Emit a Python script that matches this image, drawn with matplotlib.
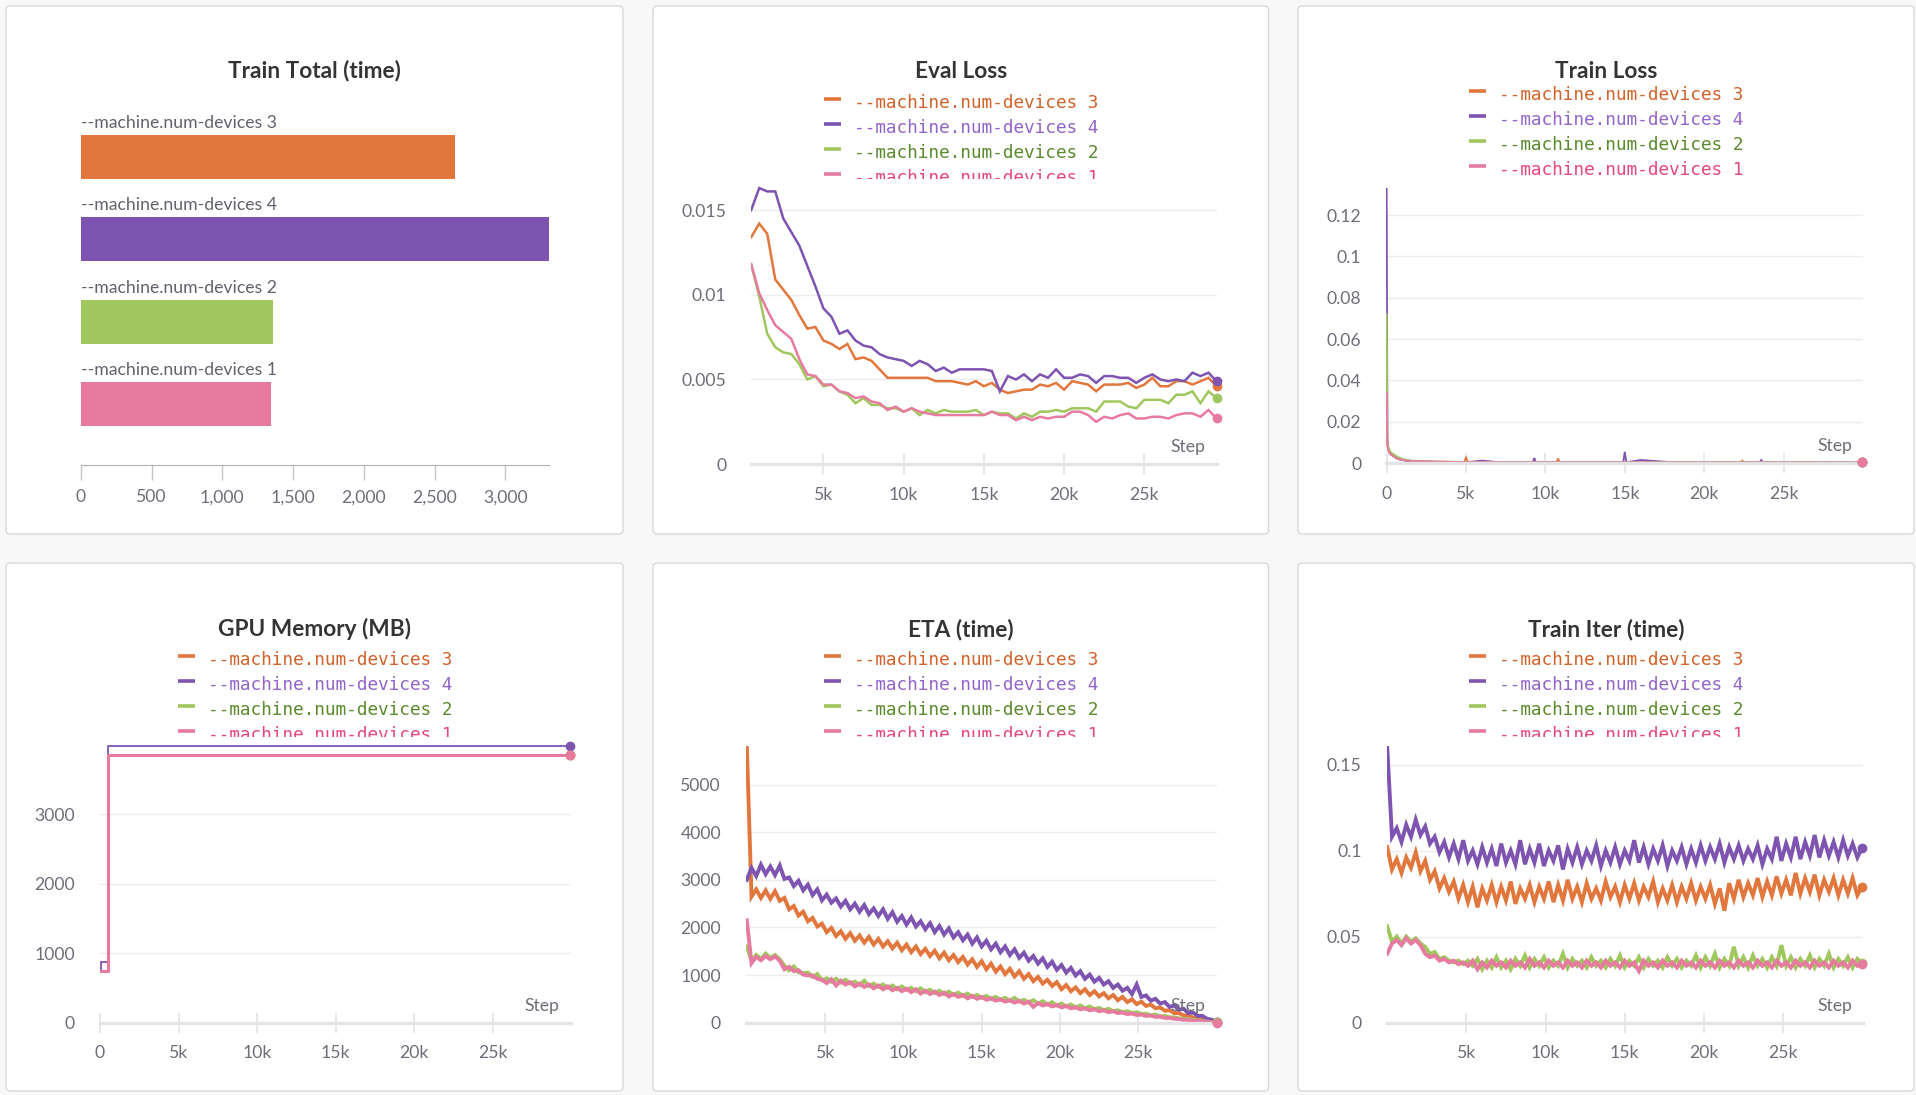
# wandb style dashboard six panels one bar chart five step charts
# comments are lowercase no punctuation

import numpy as np
import matplotlib
matplotlib.use("Agg")
import matplotlib.pyplot as plt
from matplotlib.patches import FancyBboxPatch
from matplotlib.transforms import IdentityTransform
from matplotlib.ticker import FuncFormatter

plt.rcParams["font.family"] = ["Lato", "DejaVu Sans"]

W, H = 1916, 1095

RUNS = ["--machine.num-devices 3", "--machine.num-devices 4",
        "--machine.num-devices 2", "--machine.num-devices 1"]
LINE_COLORS = ["#e2773e", "#7e54b1", "#a0c75e", "#e67b9f"]
TEXT_COLORS = ["#d2622b", "#9265c8", "#5b8a2d", "#e3477e"]
TICK = "#6e6e7a"

# train total time per run
TRAIN_TOTAL = [2642, 3312, 1359, 1347]
TOTAL_TICKS = [0, 500, 1000, 1500, 2000, 2500, 3000]

# eval loss every 500 steps
EVAL_STEPS = list(range(500, 30000, 500))
EVAL_3 = [0.0134, 0.0142, 0.0136, 0.0109, 0.0103, 0.0097, 0.0088, 0.0080, 0.0081, 0.0073,
          0.0071, 0.0068, 0.0071, 0.0062, 0.0063, 0.0061, 0.0056, 0.0051, 0.0051, 0.0051,
          0.0051, 0.0051, 0.0051, 0.0049, 0.0049, 0.0049, 0.0048, 0.0047, 0.0049, 0.0046,
          0.0048, 0.0044, 0.0042, 0.0043, 0.0044, 0.0044, 0.0047, 0.0046, 0.0048, 0.0044,
          0.0049, 0.0048, 0.0047, 0.0043, 0.0047, 0.0047, 0.0047, 0.0048, 0.0045, 0.0047,
          0.0051, 0.0046, 0.0046, 0.0049, 0.0049, 0.0047, 0.0049, 0.0051, 0.0046]
EVAL_4 = [0.0150, 0.0163, 0.0161, 0.0161, 0.0145, 0.0137, 0.0129, 0.0117, 0.0105, 0.0092,
          0.0087, 0.0077, 0.0079, 0.0073, 0.0070, 0.0069, 0.0065, 0.0063, 0.0062, 0.0061,
          0.0058, 0.0061, 0.0059, 0.0055, 0.0057, 0.0054, 0.0056, 0.0056, 0.0056, 0.0056,
          0.0055, 0.0043, 0.0052, 0.0050, 0.0053, 0.0049, 0.0053, 0.0051, 0.0056, 0.0051,
          0.0051, 0.0053, 0.0052, 0.0048, 0.0052, 0.0052, 0.0051, 0.0051, 0.0048, 0.0051,
          0.0053, 0.0050, 0.0049, 0.0050, 0.0049, 0.0054, 0.0052, 0.0054, 0.0049]
EVAL_2 = [0.0118, 0.0099, 0.0077, 0.0069, 0.0066, 0.0065, 0.0059, 0.0050, 0.0052, 0.0046,
          0.0047, 0.0043, 0.0041, 0.0036, 0.0039, 0.0035, 0.0035, 0.0033, 0.0033, 0.0031,
          0.0033, 0.0029, 0.0032, 0.0030, 0.0032, 0.0031, 0.0031, 0.0031, 0.0032, 0.0029,
          0.0031, 0.0030, 0.0030, 0.0027, 0.0030, 0.0028, 0.0031, 0.0031, 0.0032, 0.0031,
          0.0033, 0.0033, 0.0033, 0.0031, 0.0037, 0.0037, 0.0037, 0.0034, 0.0033, 0.0038,
          0.0038, 0.0038, 0.0036, 0.0041, 0.0041, 0.0043, 0.0036, 0.0043, 0.0039]
EVAL_1 = [0.0118, 0.0101, 0.0091, 0.0082, 0.0078, 0.0074, 0.0062, 0.0053, 0.0052, 0.0047,
          0.0047, 0.0043, 0.0042, 0.0039, 0.0040, 0.0037, 0.0036, 0.0032, 0.0034, 0.0031,
          0.0033, 0.0031, 0.0030, 0.0029, 0.0029, 0.0029, 0.0029, 0.0029, 0.0029, 0.0029,
          0.0031, 0.0029, 0.0029, 0.0026, 0.0028, 0.0026, 0.0028, 0.0027, 0.0028, 0.0028,
          0.0031, 0.0031, 0.0029, 0.0025, 0.0028, 0.0027, 0.0029, 0.0030, 0.0027, 0.0027,
          0.0028, 0.0028, 0.0027, 0.0029, 0.0030, 0.0030, 0.0028, 0.0032, 0.0027]

# train loss sampled where the curve changes
LOSS_STEPS = [0, 50, 100, 200, 300, 500, 700, 1000, 1300, 1600,
              2000, 2500, 3000, 4000, 4900, 5000, 5100, 6000, 7000, 8000,
              9200, 9300, 9400, 10000, 10700, 10800, 10900, 12000, 13000, 14000,
              14900, 15000, 15100, 16000, 18000, 20000, 22300, 22400, 22500, 23500,
              23600, 23700, 25000, 27000, 29950]
LOSS_3 = [0.012, 0.009, 0.006, 0.0045, 0.004, 0.003, 0.002, 0.0015, 0.0012, 0.001,
          0.0009, 0.0008, 0.0007, 0.0006, 0.0006, 0.0030, 0.0006, 0.0006, 0.0005, 0.0005,
          0.0005, 0.0005, 0.0005, 0.0005, 0.0005, 0.0022, 0.0005, 0.0005, 0.0005, 0.0004,
          0.0004, 0.0004, 0.0004, 0.0004, 0.0004, 0.0004, 0.0004, 0.0012, 0.0004, 0.0004,
          0.0004, 0.0004, 0.0004, 0.0004, 0.0003]
LOSS_4 = [0.1333, 0.010, 0.007, 0.005, 0.004, 0.003, 0.002, 0.0015, 0.001, 0.0009,
          0.0008, 0.0007, 0.0006, 0.0005, 0.0005, 0.0006, 0.0005, 0.0012, 0.0005, 0.0005,
          0.0005, 0.0025, 0.0005, 0.0005, 0.0005, 0.0005, 0.0005, 0.0005, 0.0004, 0.0004,
          0.0004, 0.0055, 0.0004, 0.0015, 0.0004, 0.0004, 0.0004, 0.0004, 0.0004, 0.0004,
          0.0015, 0.0004, 0.0004, 0.0004, 0.0003]
LOSS_2 = [0.072, 0.009, 0.008, 0.006, 0.005, 0.004, 0.003, 0.002, 0.0015, 0.0012,
          0.001, 0.0009, 0.0008, 0.0007, 0.0006, 0.0006, 0.0006, 0.0005, 0.0005, 0.0005,
          0.0005, 0.0005, 0.0005, 0.0005, 0.0005, 0.0005, 0.0005, 0.0004, 0.0004, 0.0004,
          0.0004, 0.0004, 0.0004, 0.0004, 0.0004, 0.0004, 0.0004, 0.0004, 0.0004, 0.0004,
          0.0004, 0.0004, 0.0004, 0.0004, 0.0003]
LOSS_1 = [0.034, 0.008, 0.006, 0.005, 0.004, 0.003, 0.002, 0.0015, 0.0012, 0.001,
          0.0009, 0.0008, 0.0007, 0.0006, 0.0005, 0.0005, 0.0005, 0.0005, 0.0005, 0.0004,
          0.0004, 0.0004, 0.0004, 0.0004, 0.0004, 0.0004, 0.0004, 0.0004, 0.0004, 0.0004,
          0.0004, 0.0004, 0.0004, 0.0004, 0.0003, 0.0003, 0.0003, 0.0003, 0.0003, 0.0003,
          0.0003, 0.0003, 0.0003, 0.0003, 0.0003]

# gpu memory step changes
GPU_STEPS = [0, 80, 500, 29950]
GPU_3 = [750, 750, 3860, 3860]
GPU_4 = [740, 880, 3984, 3984]
GPU_2 = [750, 750, 3860, 3860]
GPU_1 = [750, 750, 3860, 3860]

# eta and iter time every 300 steps
ITER_STEPS = list(range(0, 30001, 300))
ETA_3 = [5800, 2650, 2800, 2620, 2780, 2600, 2760, 2560, 2620, 2380,
         2450, 2250, 2330, 2130, 2200, 2020, 2080, 1900, 1990, 1820,
         1920, 1760, 1880, 1720, 1830, 1680, 1800, 1640, 1760, 1600,
         1710, 1560, 1680, 1520, 1640, 1480, 1600, 1440, 1550, 1400,
         1510, 1350, 1470, 1310, 1420, 1270, 1380, 1220, 1330, 1170,
         1290, 1120, 1240, 1070, 1180, 1020, 1130, 970, 1080, 920,
         1020, 870, 960, 820, 900, 770, 850, 700, 790, 660,
         740, 620, 700, 580, 660, 550, 620, 510, 580, 470,
         540, 430, 490, 390, 440, 350, 380, 300, 320, 250,
         260, 200, 200, 150, 150, 100, 90, 60, 40, 20,
         5]
ETA_4 = [3000, 3250, 3080, 3320, 3120, 3280, 3100, 3300, 3020, 3050,
         2870, 2980, 2780, 2900, 2680, 2800, 2570, 2690, 2520, 2610,
         2440, 2560, 2380, 2500, 2330, 2470, 2280, 2400, 2240, 2380,
         2180, 2320, 2120, 2240, 2060, 2210, 2020, 2130, 1960, 2090,
         1900, 2030, 1850, 1980, 1790, 1900, 1730, 1850, 1660, 1790,
         1600, 1720, 1540, 1660, 1480, 1600, 1420, 1540, 1360, 1470,
         1300, 1400, 1240, 1350, 1170, 1280, 1110, 1210, 1050, 1150,
         990, 1080, 920, 1010, 860, 940, 800, 870, 730, 800,
         670, 730, 600, 800, 540, 570, 460, 500, 400, 430,
         330, 360, 270, 290, 200, 210, 140, 140, 80, 60,
         5]
ETA_2 = [1600, 1300, 1420, 1340, 1450, 1360, 1420, 1330, 1200, 1100,
         1180, 1060, 1040, 1050, 960, 1020, 890, 930, 860, 920,
         840, 900, 820, 860, 790, 880, 770, 820, 750, 800,
         730, 780, 700, 760, 690, 730, 660, 720, 640, 690,
         620, 670, 600, 650, 580, 630, 560, 610, 540, 580,
         520, 560, 500, 540, 480, 520, 460, 520, 440, 480,
         420, 470, 400, 450, 380, 430, 360, 400, 340, 380,
         320, 360, 300, 340, 280, 310, 260, 290, 240, 260,
         220, 240, 200, 220, 180, 190, 150, 170, 130, 140,
         110, 110, 90, 80, 70, 60, 45, 35, 20, 10,
         3]
ETA_1 = [2150, 1250, 1380, 1310, 1400, 1330, 1390, 1300, 1120, 1170,
         1080, 1100, 1010, 990, 990, 920, 900, 830, 910, 780,
         880, 800, 850, 760, 820, 750, 800, 720, 780, 700,
         760, 680, 730, 660, 710, 640, 700, 610, 670, 600,
         650, 580, 630, 550, 600, 540, 580, 510, 560, 500,
         540, 480, 510, 460, 490, 440, 470, 420, 460, 400,
         440, 330, 410, 360, 390, 340, 370, 320, 350, 300,
         320, 280, 300, 260, 280, 240, 260, 220, 240, 200,
         210, 180, 190, 160, 170, 140, 150, 120, 125, 100,
         100, 80, 75, 60, 55, 40, 35, 25, 15, 8,
         2]

ITER_3 = [0.102, 0.089, 0.095, 0.087, 0.096, 0.090, 0.099, 0.088, 0.094, 0.083,
          0.088, 0.078, 0.084, 0.076, 0.082, 0.072, 0.080, 0.070, 0.079, 0.067,
          0.078, 0.071, 0.080, 0.070, 0.079, 0.071, 0.082, 0.069, 0.078, 0.072,
          0.080, 0.070, 0.079, 0.072, 0.082, 0.070, 0.080, 0.071, 0.083, 0.072,
          0.079, 0.070, 0.081, 0.072, 0.078, 0.071, 0.082, 0.073, 0.079, 0.070,
          0.080, 0.072, 0.081, 0.071, 0.079, 0.073, 0.082, 0.070, 0.078, 0.071,
          0.080, 0.070, 0.079, 0.072, 0.081, 0.071, 0.079, 0.072, 0.080, 0.069,
          0.078, 0.065, 0.081, 0.072, 0.083, 0.073, 0.081, 0.074, 0.084, 0.073,
          0.082, 0.074, 0.085, 0.075, 0.083, 0.074, 0.087, 0.075, 0.084, 0.076,
          0.086, 0.074, 0.083, 0.076, 0.084, 0.074, 0.083, 0.075, 0.084, 0.074,
          0.079]
ITER_4 = [0.160, 0.108, 0.113, 0.105, 0.115, 0.108, 0.118, 0.109, 0.114, 0.104,
          0.108, 0.099, 0.105, 0.096, 0.104, 0.095, 0.106, 0.094, 0.100, 0.092,
          0.102, 0.093, 0.101, 0.091, 0.104, 0.093, 0.100, 0.092, 0.106, 0.092,
          0.101, 0.093, 0.104, 0.091, 0.100, 0.094, 0.103, 0.089, 0.101, 0.093,
          0.102, 0.092, 0.100, 0.094, 0.103, 0.091, 0.100, 0.093, 0.102, 0.092,
          0.100, 0.094, 0.106, 0.093, 0.102, 0.092, 0.101, 0.094, 0.103, 0.091,
          0.100, 0.094, 0.102, 0.092, 0.101, 0.093, 0.103, 0.094, 0.102, 0.095,
          0.104, 0.093, 0.102, 0.095, 0.103, 0.094, 0.101, 0.095, 0.103, 0.092,
          0.101, 0.095, 0.108, 0.094, 0.104, 0.096, 0.108, 0.095, 0.105, 0.097,
          0.109, 0.096, 0.106, 0.097, 0.105, 0.096, 0.106, 0.097, 0.104, 0.096,
          0.1015]
ITER_2 = [0.056, 0.047, 0.050, 0.046, 0.050, 0.047, 0.049, 0.046, 0.044, 0.040,
          0.041, 0.037, 0.038, 0.036, 0.035, 0.036, 0.034, 0.036, 0.033, 0.037,
          0.031, 0.036, 0.032, 0.038, 0.032, 0.036, 0.031, 0.037, 0.033, 0.039,
          0.032, 0.037, 0.033, 0.038, 0.032, 0.036, 0.033, 0.040, 0.032, 0.037,
          0.033, 0.036, 0.032, 0.038, 0.033, 0.036, 0.032, 0.037, 0.033, 0.039,
          0.032, 0.036, 0.033, 0.038, 0.032, 0.037, 0.033, 0.036, 0.032, 0.038,
          0.033, 0.037, 0.032, 0.036, 0.033, 0.039, 0.032, 0.038, 0.033, 0.040,
          0.032, 0.037, 0.033, 0.044, 0.033, 0.038, 0.032, 0.039, 0.033, 0.037,
          0.032, 0.038, 0.033, 0.045, 0.033, 0.038, 0.032, 0.037, 0.033, 0.039,
          0.032, 0.037, 0.033, 0.040, 0.032, 0.037, 0.033, 0.038, 0.032, 0.037,
          0.0345]
ITER_1 = [0.040, 0.046, 0.048, 0.045, 0.049, 0.046, 0.048, 0.045, 0.040, 0.038,
          0.039, 0.036, 0.037, 0.035, 0.036, 0.034, 0.035, 0.033, 0.036, 0.031,
          0.035, 0.032, 0.036, 0.033, 0.035, 0.032, 0.036, 0.033, 0.035, 0.032,
          0.037, 0.033, 0.035, 0.032, 0.036, 0.033, 0.035, 0.032, 0.036, 0.033,
          0.035, 0.032, 0.036, 0.033, 0.035, 0.032, 0.036, 0.033, 0.035, 0.032,
          0.036, 0.033, 0.035, 0.030, 0.036, 0.033, 0.035, 0.032, 0.036, 0.033,
          0.035, 0.032, 0.036, 0.033, 0.035, 0.032, 0.036, 0.033, 0.035, 0.032,
          0.036, 0.033, 0.035, 0.032, 0.036, 0.033, 0.035, 0.032, 0.036, 0.033,
          0.035, 0.032, 0.036, 0.033, 0.035, 0.032, 0.036, 0.033, 0.035, 0.032,
          0.036, 0.033, 0.035, 0.032, 0.036, 0.033, 0.035, 0.032, 0.036, 0.033,
          0.034]

STEP_TICKS = [5000, 10000, 15000, 20000, 25000]


def px_box(x0, y0, x1, y1):
    # pixel box measured from top left to figure fraction rect
    return [x0 / W, 1 - y1 / H, (x1 - x0) / W, (y1 - y0) / H]


def add_panel(fig, x0, y0, x1, y1, title, title_base):
    p = FancyBboxPatch((x0, H - y1), x1 - x0, y1 - y0,
                       boxstyle="round,pad=0,rounding_size=4",
                       transform=IdentityTransform(), fc="white",
                       ec="#d9d9dd", lw=1.0, zorder=0)
    fig.add_artist(p)
    fig.text((x0 + x1) / 2 / W, 1 - title_base / H, title, ha="center",
             va="baseline", fontsize=16.3, weight="bold", color="#343434")


def add_legend(fig, cx, clip_top, clip_bot, base0):
    x0, x1 = cx - 145, cx + 150
    ax = fig.add_axes(px_box(x0, clip_top, x1, clip_bot))
    ax.set_xlim(x0, x1)
    ax.set_ylim(clip_bot, clip_top)
    ax.axis("off")
    for i, (name, lc, tc) in enumerate(zip(RUNS, LINE_COLORS, TEXT_COLORS)):
        yb = base0 + 25 * i
        ax.plot([cx - 137, cx - 120], [yb - 9, yb - 9], color=lc, lw=2.6,
                solid_capstyle="butt", clip_on=True)
        ax.text(cx - 107, yb, name, color=tc, fontsize=12.8,
                family=["DejaVu Sans Mono"], ha="left", va="baseline", clip_on=True)


def line_axes(fig, rect, xlim, ylim, yticks):
    ax = fig.add_axes(px_box(*rect))
    ax.set_facecolor("none")
    ax.set_xlim(*xlim)
    ax.set_ylim(*ylim)
    for s in ("top", "right", "left"):
        ax.spines[s].set_visible(False)
    ax.spines["bottom"].set_color("#e3e3e8")
    ax.spines["bottom"].set_linewidth(2.4)
    ax.set_yticks(yticks)
    ax.yaxis.set_major_formatter(FuncFormatter(lambda v, p: f"{v:g}"))
    ax.xaxis.set_major_formatter(
        FuncFormatter(lambda v, p: "0" if v == 0 else f"{v / 1000:g}k"))
    ax.tick_params(axis="y", length=0, pad=18, labelsize=12.7, labelcolor=TICK)
    ax.tick_params(axis="x", direction="inout", length=14.4, width=1.1,
                   color="#e0e0e4", pad=9, labelsize=12.7, labelcolor=TICK)
    ax.grid(axis="y", color="#ececec", lw=1)
    ax.set_axisbelow(True)
    ax.annotate("Step", xy=(1, 0), xycoords="axes fraction", xytext=(-11, 17),
                textcoords="offset pixels", ha="right", va="center",
                fontsize=12.7, color=TICK)
    return ax


def draw_series(ax, steps, series, lw, dots=True):
    # draw order 3 4 2 1 so pink ends on top
    for vals, c in zip(series, LINE_COLORS):
        x = steps[:len(vals)]
        ax.plot(x, vals, color=c, lw=lw, solid_joinstyle="miter")
        if dots:
            ax.plot([x[-1]], [vals[-1]], "o", color=c, ms=6, clip_on=False, zorder=5)


def main():
    fig = plt.figure(figsize=(W / 100, H / 100), dpi=100, facecolor="#f8f8f8")

    cols = [(6, 623), (653, 1268.5), (1298, 1914)]
    rows = [(6, 534), (563, 1091)]

    add_panel(fig, cols[0][0], rows[0][0], cols[0][1], rows[0][1], "Train Total (time)", 77.5)
    add_panel(fig, cols[1][0], rows[0][0], cols[1][1], rows[0][1], "Eval Loss", 77.5)
    add_panel(fig, cols[2][0], rows[0][0], cols[2][1], rows[0][1], "Train Loss", 77.5)
    add_panel(fig, cols[0][0], rows[1][0], cols[0][1], rows[1][1], "GPU Memory (MB)", 636)
    add_panel(fig, cols[1][0], rows[1][0], cols[1][1], rows[1][1], "ETA (time)", 636)
    add_panel(fig, cols[2][0], rows[1][0], cols[2][1], rows[1][1], "Train Iter (time)", 636)

    # bar chart of total train time
    ax = fig.add_axes(px_box(80.8, 100, 549.4, 464.5))
    ax.set_facecolor("none")
    ypos = np.arange(len(TRAIN_TOTAL))
    ax.barh(ypos, TRAIN_TOTAL, height=0.534, color=LINE_COLORS)
    ax.set_xlim(0, max(TRAIN_TOTAL))
    ax.set_ylim(3.734, -0.692)
    for i, name in enumerate(RUNS):
        ax.text(0, i - 0.351, name, ha="left", va="baseline", fontsize=12.7, color="#62626e")
    for s in ("top", "right", "left"):
        ax.spines[s].set_visible(False)
    ax.spines["bottom"].set_color("#b0b0b4")
    ax.set_yticks([])
    ax.set_xticks(TOTAL_TICKS)
    ax.xaxis.set_major_formatter(FuncFormatter(lambda v, p: f"{int(v):,}"))
    ax.tick_params(axis="x", direction="out", length=10.8, width=1.0, color="#c4c4c8",
                   pad=7, labelsize=12.7, labelcolor=TICK)

    # eval loss
    ax = line_axes(fig, (751.2, 186, 1216.5, 464.2), (500, 29500), (0, 0.01642),
                   [0, 0.005, 0.01, 0.015])
    ax.set_xticks(STEP_TICKS)
    draw_series(ax, EVAL_STEPS, [EVAL_3, EVAL_4, EVAL_2, EVAL_1], lw=1.8)
    add_legend(fig, sum(cols[1]) / 2, 86, 179, 107.8)

    # train loss
    ax = line_axes(fig, (1386.2, 187.7, 1862.9, 463.1), (-30, 30000), (0, 0.1333),
                   [0, 0.02, 0.04, 0.06, 0.08, 0.1, 0.12])
    ax.set_xticks([0] + STEP_TICKS)
    draw_series(ax, LOSS_STEPS, [LOSS_3, LOSS_4, LOSS_2, LOSS_1], lw=1.3)
    add_legend(fig, sum(cols[2]) / 2, 86, 179, 99.9)

    # gpu memory
    ax = line_axes(fig, (100, 744.4, 570.6, 1022.6), (0, 29960), (0, 4010),
                   [0, 1000, 2000, 3000])
    ax.set_xticks([0] + STEP_TICKS)
    for vals, c, lw in zip([GPU_3, GPU_4, GPU_2, GPU_1], LINE_COLORS, [2.0, 1.3, 2.0, 2.2]):
        ax.plot(GPU_STEPS, vals, color=c, lw=lw, drawstyle="steps-post")
        ax.plot([GPU_STEPS[-1]], [vals[-1]], "o", color=c, ms=6, clip_on=False, zorder=5)
    add_legend(fig, sum(cols[0]) / 2, 641, 737, 665.2)

    # eta
    ax = line_axes(fig, (745.9, 746.1, 1216.5, 1022.6), (-60, 30000), (0, 5811),
                   [0, 1000, 2000, 3000, 4000, 5000])
    ax.set_xticks(STEP_TICKS)
    draw_series(ax, ITER_STEPS, [ETA_3, ETA_4, ETA_2, ETA_1], lw=2.8)
    add_legend(fig, sum(cols[1]) / 2, 641, 737, 665.2)

    # train iter
    ax = line_axes(fig, (1386.6, 746.1, 1862.9, 1022.6), (-40, 30050), (0, 0.1607),
                   [0, 0.05, 0.1, 0.15])
    ax.set_xticks(STEP_TICKS)
    draw_series(ax, ITER_STEPS, [ITER_3, ITER_4, ITER_2, ITER_1], lw=2.8)
    add_legend(fig, sum(cols[2]) / 2, 641, 737, 665.2)

    fig.savefig("out.png", dpi=100, facecolor=fig.get_facecolor())
    plt.close(fig)


if __name__ == "__main__":
    main()
